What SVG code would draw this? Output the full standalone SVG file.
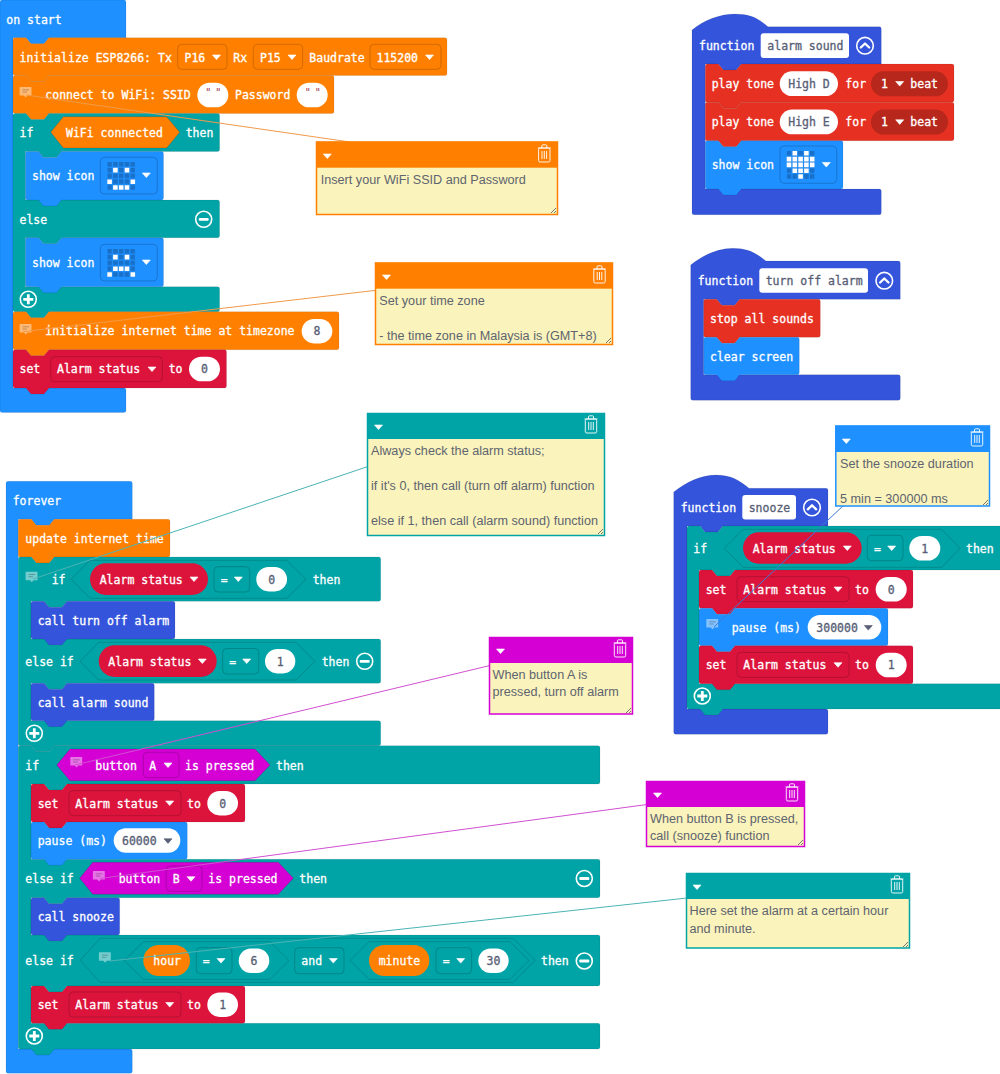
<svg xmlns="http://www.w3.org/2000/svg" width="1000" height="1074" viewBox="0 0 1000 1074">
<style>
text{font-family:"DejaVu Sans Mono","Liberation Mono",monospace;font-size:11.5px;font-weight:400;fill:#fff;stroke:#fff;stroke-width:.3px}
.n{fill:#575E75;stroke:#575E75;text-anchor:middle}
.d{fill:#575E75;stroke:#575E75}
.q{fill:#A8324C;stroke:none;font-size:10px;letter-spacing:-1px;text-anchor:middle}
.c{font-family:"Liberation Sans",Arial,sans-serif;font-size:12.65px;font-weight:400;fill:#5E6470;stroke:none}
.b{stroke:#000;stroke-opacity:.12;stroke-width:.7}
.teal{fill:#00A4A6}.blue{fill:#1E90FF}.org{fill:#FF8000}.red{fill:#DC143C}.fn{fill:#3455DB}.mus{fill:#E63022}.pur{fill:#D400D4}
.f{fill:none;stroke:#000;stroke-opacity:.18;stroke-width:1}
.o{fill:#fff}
.hx{stroke:#000;stroke-opacity:.15;stroke-width:1}
.line{fill:none;stroke-width:1}
.body{fill:#FAF3BB}
</style>
<defs>
<path id="caret" d="M0 0h8l-4 4.6z" fill="#fff" stroke="#fff" stroke-width=".6" stroke-linejoin="round"/>
<path id="dcaret" d="M0 0h8l-4 4.6z" fill="#575E75" stroke="#575E75" stroke-width=".6" stroke-linejoin="round"/>
<pattern id="dots" width="5.8" height="5.8" patternUnits="userSpaceOnUse"><rect width="4.6" height="4.6" fill="#1870C8"/></pattern>
<g id="happy"><rect width="28" height="28" fill="url(#dots)"/><path fill="#fff" d="M5.8 5.8h4.6v4.6h-4.6zM17.4 5.8h4.6v4.6h-4.6zM0 17.4h4.6v4.6h-4.6zM23.2 17.4h4.6v4.6h-4.6zM5.8 23.2h4.6v4.6h-4.6zM11.6 23.2h4.6v4.6h-4.6zM17.4 23.2h4.6v4.6h-4.6z"/></g>
<g id="sad"><rect width="28" height="28" fill="url(#dots)"/><path fill="#fff" d="M5.8 5.8h4.6v4.6h-4.6zM17.4 5.8h4.6v4.6h-4.6zM5.8 17.4h4.6v4.6h-4.6zM11.6 17.4h4.6v4.6h-4.6zM17.4 17.4h4.6v4.6h-4.6zM0 23.2h4.6v4.6h-4.6zM23.2 23.2h4.6v4.6h-4.6z"/></g>
<g id="heart"><rect width="28" height="28" fill="url(#dots)"/><path fill="#fff" d="M5.8 0h4.6v4.6h-4.6zM17.4 0h4.6v4.6h-4.6zM0 5.8h4.6v4.6h-4.6zM5.8 5.8h4.6v4.6h-4.6zM11.6 5.8h4.6v4.6h-4.6zM17.4 5.8h4.6v4.6h-4.6zM23.2 5.8h4.6v4.6h-4.6zM0 11.6h4.6v4.6h-4.6zM5.8 11.6h4.6v4.6h-4.6zM11.6 11.6h4.6v4.6h-4.6zM17.4 11.6h4.6v4.6h-4.6zM23.2 11.6h4.6v4.6h-4.6zM5.8 17.4h4.6v4.6h-4.6zM11.6 17.4h4.6v4.6h-4.6zM17.4 17.4h4.6v4.6h-4.6zM11.6 23.2h4.6v4.6h-4.6z"/></g>
<g id="minus"><circle r="8" fill="none" stroke="#fff" stroke-width="1.6"/><rect x="-5" y="-1.4" width="10" height="2.8" rx="1" fill="#fff"/></g>
<g id="plus"><circle r="8" fill="none" stroke="#fff" stroke-width="1.6"/><path d="M-5-1.4h3.6v-3.6h2.8v3.6h3.6v2.8h-3.6v3.6h-2.8v-3.6h-3.6z" fill="#fff"/></g>
<g id="up"><circle r="8.3" fill="none" stroke="#fff" stroke-width="1.6"/><path d="M-4.2 1.8L0-2.2L4.2 1.8" fill="none" stroke="#fff" stroke-width="2.3" stroke-linecap="round" stroke-linejoin="round"/></g>
<g id="cm"><path d="M.5 0h10.5q.5 0 .5.5v7.5q0 .5-.5.5h-3.5l-1.700 2-1.700-2h-4q-.5 0-.5-.5v-7.500q0-.5.5-.5z" fill="#fff" fill-opacity=".45"/><path d="M2.500 2.800h6.500M2.500 5h4.500" stroke="#000" stroke-opacity=".25" stroke-width="1"/></g>
<g id="trash" fill="none" stroke="#fff" stroke-width="1" stroke-opacity=".9"><path d="M-6.500-5.500h13M-2.500-5.500v-2.200q0-1 1-1h3q1 0 1 1v2.200"/><rect x="-5.700" y="-5.500" width="11.400" height="14" rx="1.500"/><path d="M-2.300-2.500v8M0-2.500v8M2.300-2.500v8"/></g>
<g id="grip" stroke="#777" stroke-width="1" fill="none"><path d="M-6-1L-1-6M-3-1L-1-3"/></g>
</defs>

<g id="on-start">
<path class="blue b" d="M2 0H124q2 0 2 2V37.700H49l-5 6h-13l-5-6H13V388H124q2 0 2 2v20.500q0 2-2 2H2q-2 0-2-2V2q0-2 2-2z"/>
<text x="6.300" y="23.500">on start</text>
</g>
<g id="init-esp">
<path class="org b" d="M15 37.700h11l5 6h13l5-6h396q2 0 2 2v33.800q0 2-2 2h-396l-5 6h-13l-5-6h-11q-2 0-2-2v-33.800q0-2 2-2z"/>
<text x="19.500" y="61.500">initialize ESP8266: Tx</text>
<rect class="f" x="177.700" y="44.300" width="49.300" height="25" rx="4"/><text x="184.500" y="61.500">P16</text><use href="#caret" x="212.500" y="55"/>
<text x="233.300" y="61.500">Rx</text>
<rect class="f" x="253.300" y="44.300" width="49.300" height="25" rx="4"/><text x="260" y="61.500">P15</text><use href="#caret" x="288" y="55"/>
<text x="309.300" y="61.500">Baudrate</text>
<rect class="f" x="370" y="44.300" width="71" height="25" rx="4"/><text x="376.500" y="61.500">115200</text><use href="#caret" x="425.500" y="55"/>
</g>
<g id="connect-wifi">
<path class="org b" d="M15 75.500h11l5 6h13l5-6h283q2 0 2 2v34q0 2-2 2h-283l-5 6h-13l-5-6h-11q-2 0-2-2v-34q0-2 2-2z"/>
<use href="#cm" x="20" y="87"/>
<text x="45.300" y="99">connect to WiFi: SSID</text>
<rect class="o" x="197.300" y="82.700" width="31" height="24.600" rx="12.300"/><text class="q" x="212.800" y="95.500">" "</text>
<text x="235" y="99">Password</text>
<rect class="o" x="296.700" y="82.700" width="31" height="24.600" rx="12.300"/><text class="q" x="312.200" y="95.500">" "</text>
</g>
<g id="if-wifi">
<path class="teal b" d="M15 113.500h11l5 6h13l5-6H217.600q2 0 2 2V149.500q0 2-2 2H61.500l-5 6h-13l-5-6H25.500V200H217.600q2 0 2 2V235.700q0 2-2 2H61.500l-5 6h-13l-5-6H25.500V286.700H217.600q2 0 2 2V309.700q0 2-2 2H49l-5 6h-13l-5-6H15q-2 0-2-2V115.500q0-2 2-2z"/>
<text x="19.500" y="137">if</text>
<path class="org hx" d="M50.700 132.300L63.300 116.700H166.700L179.700 132.300L166.700 148H63.300z"/>
<text x="66" y="137">WiFi connected</text>
<text x="185.700" y="137">then</text>
<text x="19.500" y="223.500">else</text>
<use href="#minus" x="203.700" y="219.300"/>
<use href="#plus" x="28.300" y="299.300"/>
</g>
<g id="show-happy">
<path class="blue b" d="M27.500 151.500h11l5 6h13l5-6h100q2 0 2 2v44.500q0 2-2 2h-100l-5 6h-13l-5-6h-11q-2 0-2-2v-44.500q0-2 2-2z"/>
<text x="32" y="180">show icon</text>
<rect class="f" x="100.300" y="157.300" width="57" height="36.700" rx="4"/><use href="#happy" x="107.300" y="162"/><use href="#caret" x="142.300" y="173"/>
</g>
<g id="show-sad">
<path class="blue b" d="M27.500 237.700h11l5 6h13l5-6h100q2 0 2 2v45q0 2-2 2h-100l-5 6h-13l-5-6h-11q-2 0-2-2v-45q0-2 2-2z"/>
<text x="32" y="266.500">show icon</text>
<rect class="f" x="100.300" y="244.300" width="57" height="36.700" rx="4"/><use href="#sad" x="107.300" y="249"/><use href="#caret" x="142.300" y="260"/>
</g>
<g id="init-time">
<path class="org b" d="M15 311.700h11l5 6h13l5-6h288q2 0 2 2v34q0 2-2 2h-288l-5 6h-13l-5-6h-11q-2 0-2-2v-34q0-2 2-2z"/>
<use href="#cm" x="20" y="324"/>
<text x="45.300" y="335.200">initialize internet time at timezone</text>
<rect class="o" x="301.700" y="319" width="30.600" height="24.400" rx="12.200"/><text class="n" x="317" y="335.200">8</text>
</g>
<g id="set-start">
<path class="red b" d="M15 349.700h11l5 6h13l5-6h175.500q2 0 2 2v34.300q0 2-2 2h-175.500l-5 6h-13l-5-6h-11q-2 0-2-2v-34.300q0-2 2-2z"/>
<text x="19.500" y="373.200">set</text>
<rect class="f" x="50.700" y="356.700" width="111.600" height="25" rx="4"/><text x="57" y="373.200">Alarm status</text><use href="#caret" x="148" y="367"/>
<text x="168.700" y="373.200">to</text>
<rect class="o" x="189" y="356.700" width="31" height="24.600" rx="12.300"/><text class="n" x="204.500" y="373.200">0</text>
</g>

<g id="fn-alarm-sound">
<path class="fn b" d="M692 30C704 20 720 14 735 14S758 18 768 26.700H879.300q2 0 2 2V64H741.300l-5 6h-13l-5-6H705.300V189H879.300q2 0 2 2v21.700q0 2-2 2H694q-2 0-2-2z"/>
<text x="699" y="50">function</text>
<rect class="o" x="760.700" y="33.300" width="88.300" height="24.700" rx="3"/><text class="d" x="767.300" y="50">alarm sound</text>
<use href="#up" x="865" y="45.700"/>
</g>
<g id="tone-d">
<path class="mus b" d="M707.300 64h11l5 6h13l5-6h210.700q2 0 2 2v34.300q0 2-2 2h-210.700l-5 6h-13l-5-6h-11q-2 0-2-2v-34.300q0-2 2-2z"/>
<text x="711.700" y="87.500">play tone</text>
<rect class="o" x="779.700" y="71.300" width="58.300" height="24.700" rx="12.300"/><text class="n" x="809" y="87.500">High D</text>
<text x="845.300" y="87.500">for</text>
<rect x="871" y="71.300" width="77" height="25" rx="12.500" fill="#B8271B"/><text x="881" y="87.500">1</text><use href="#caret" x="895.700" y="81.500"/><text x="910.300" y="87.500">beat</text>
</g>
<g id="tone-e">
<path class="mus b" d="M707.300 102.300h11l5 6h13l5-6h210.700q2 0 2 2v34.400q0 2-2 2h-210.700l-5 6h-13l-5-6h-11q-2 0-2-2v-34.400q0-2 2-2z"/>
<text x="711.700" y="125.800">play tone</text>
<rect class="o" x="779.700" y="109.600" width="58.300" height="24.700" rx="12.300"/><text class="n" x="809" y="125.800">High E</text>
<text x="845.300" y="125.800">for</text>
<rect x="871" y="109.600" width="77" height="25" rx="12.500" fill="#B8271B"/><text x="881" y="125.800">1</text><use href="#caret" x="895.700" y="119.800"/><text x="910.300" y="125.800">beat</text>
</g>
<g id="show-heart">
<path class="blue b" d="M707.300 140.700h11l5 6h13l5-6h99.700q2 0 2 2v44.300q0 2-2 2h-99.700l-5 6h-13l-5-6h-11q-2 0-2-2v-44.300q0-2 2-2z"/>
<text x="711.700" y="169.300">show icon</text>
<rect class="f" x="780" y="146" width="56.700" height="37.300" rx="4"/><use href="#heart" x="786.700" y="151"/><use href="#caret" x="822.300" y="162.500"/>
</g>

<g id="fn-turn-off">
<path class="fn b" d="M690.700 265C703 255 718 248.300 733 248.300S756 253 766 261H898.300q2 0 2 2V299.300H739.700l-5 6h-13l-5-6H703.700V374.700H898.300q2 0 2 2v21.600q0 2-2 2H692.700q-2 0-2-2z"/>
<text x="697.700" y="285.200">function</text>
<rect class="o" x="759.300" y="268.300" width="108.700" height="24.400" rx="3"/><text class="d" x="765.700" y="285.200">turn off alarm</text>
<use href="#up" x="884.300" y="280.700"/>
</g>
<g id="stop-sounds">
<path class="mus b" d="M705.700 299.300h11l5 6h13l5-6h78.600q2 0 2 2v34q0 2-2 2h-78.600l-5 6h-13l-5-6h-11q-2 0-2-2v-34q0-2 2-2z"/>
<text x="710" y="322.900">stop all sounds</text>
</g>
<g id="clear-screen">
<path class="blue b" d="M705.700 337.300h11l5 6h13l5-6h57.600q2 0 2 2v33.400q0 2-2 2h-57.600l-5 6h-13l-5-6h-11q-2 0-2-2v-33.400q0-2 2-2z"/>
<text x="710" y="361">clear screen</text>
</g>

<g id="fn-snooze">
<path class="fn b" d="M673.700 492C686 482 701 475 716 475S739 480 749 488.300H826q2 0 2 2V526H723l-5 6h-13l-5-6H687V709H826q2 0 2 2v21.300q0 2-2 2H675.700q-2 0-2-2z"/>
<text x="680.700" y="512">function</text>
<rect class="o" x="742.300" y="495" width="53.700" height="24.600" rx="3"/><text class="d" x="748.700" y="512">snooze</text>
<use href="#up" x="812" y="507.500"/>
</g>
<g id="if-snooze">
<path class="teal b" d="M689 526h11l5 6h13l5-6H1002V570H735l-5 6h-13l-5-6H699V683.700H1002V709H723l-5 6h-13l-5-6H689q-2 0-2-2V528q0-2 2-2z"/>
<text x="693.300" y="552.700">if</text>
<path class="teal hx" d="M724.300 548.300L743 529.300H941.700L960 548.300L941.700 567.300H743z"/>
<rect class="red" x="743" y="532.300" width="118.700" height="31.400" rx="15.700"/>
<text x="752.700" y="552.700">Alarm status</text><use href="#caret" x="843.300" y="546"/>
<rect class="f" x="867.300" y="535.300" width="35.700" height="25.400" rx="4"/><text x="874" y="552.700">=</text><use href="#caret" x="887.700" y="546"/>
<rect class="o" x="909.300" y="536" width="31" height="24.600" rx="12.300"/><text class="n" x="924.800" y="552.700">1</text>
<text x="966" y="552.700">then</text>
<use href="#plus" x="702.300" y="696"/>
</g>
<g id="set-snooze-0">
<path class="red b" d="M701 570h11l5 6h13l5-6h176q2 0 2 2v34.300q0 2-2 2h-176l-5 6h-13l-5-6h-11q-2 0-2-2v-34.300q0-2 2-2z"/>
<text x="705.700" y="593.500">set</text>
<rect class="f" x="737" y="576.700" width="112" height="25" rx="4"/><text x="743.300" y="593.500">Alarm status</text><use href="#caret" x="834" y="587"/>
<text x="855" y="593.500">to</text>
<rect class="o" x="875.700" y="577" width="31" height="24.600" rx="12.300"/><text class="n" x="891.200" y="593.500">0</text>
</g>
<g id="pause-snooze">
<path class="blue b" d="M701 608.300h11l5 6h13l5-6h151q2 0 2 2v33.400q0 2-2 2h-151l-5 6h-13l-5-6h-11q-2 0-2-2v-33.400q0-2 2-2z"/>
<use href="#cm" x="706.700" y="619"/>
<text x="731.700" y="631.800">pause (ms)</text>
<rect class="o" x="807.700" y="615" width="73.600" height="24.500" rx="12.200"/><text class="d" x="816.300" y="631.800">300000</text><use href="#dcaret" x="864.300" y="625.500"/>
</g>
<g id="set-snooze-1">
<path class="red b" d="M701 645.700h11l5 6h13l5-6h176q2 0 2 2v34q0 2-2 2h-176l-5 6h-13l-5-6h-11q-2 0-2-2v-34q0-2 2-2z"/>
<text x="705.700" y="669.200">set</text>
<rect class="f" x="737" y="652.400" width="112" height="25" rx="4"/><text x="743.300" y="669.200">Alarm status</text><use href="#caret" x="834" y="662.700"/>
<text x="855" y="669.200">to</text>
<rect class="o" x="875.700" y="652.700" width="31" height="24.600" rx="12.300"/><text class="n" x="891.200" y="669.200">1</text>
</g>

<g id="forever">
<path class="blue b" d="M8 481.300H130.300q2 0 2 2V519.300H54.300l-5 6h-13l-5-6H18.300V1049H130.300q2 0 2 2v20.300q0 2-2 2H8q-2 0-2-2V483.300q0-2 2-2z"/>
<text x="12.700" y="505">forever</text>
</g>
<g id="update-time">
<path class="org b" d="M20.300 519.300h11l5 6h13l5-6h113.700q2 0 2 2v33.700q0 2-2 2h-113.700l-5 6h-13l-5-6h-11q-2 0-2-2v-33.700q0-2 2-2z"/>
<text x="25.300" y="542.800">update internet time</text>
</g>
<g id="if-status">
<path class="teal b" d="M20.300 557h11l5 6h13l5-6H378.700q2 0 2 2V599.300q0 2-2 2H67l-5 6h-13l-5-6H31V639H378.700q2 0 2 2V681.300q0 2-2 2H67l-5 6h-13l-5-6H31V720.700H378.700q2 0 2 2V743.700q0 2-2 2H54.300l-5 6h-13l-5-6H20.300q-2 0-2-2V559q0-2 2-2z"/>
<use href="#cm" x="26" y="571.700"/>
<text x="51.700" y="583.600">if</text>
<path class="teal hx" d="M71 579.300L90 560.300H286.700L306 579.300L286.700 598.300H90z"/>
<rect class="red" x="90" y="563.300" width="118" height="31.700" rx="15.800"/>
<text x="99.700" y="583.600">Alarm status</text><use href="#caret" x="190" y="577"/>
<rect class="f" x="214" y="566.700" width="35.700" height="25.300" rx="4"/><text x="220.700" y="583.600">=</text><use href="#caret" x="234.300" y="577"/>
<rect class="o" x="256.300" y="567" width="30.700" height="24.400" rx="12.200"/><text class="n" x="271.600" y="583.600">0</text>
<text x="312.700" y="583.600">then</text>
<text x="25.300" y="665.600">else if</text>
<path class="teal hx" d="M80 661.300L98.700 642.300H296L315 661.300L296 680H98.700z"/>
<rect class="red" x="98.700" y="645.300" width="118" height="31.700" rx="15.800"/>
<text x="108.300" y="665.600">Alarm status</text><use href="#caret" x="198.300" y="659"/>
<rect class="f" x="222.700" y="648.500" width="36" height="25.500" rx="4"/><text x="229.300" y="665.600">=</text><use href="#caret" x="242.700" y="659"/>
<rect class="o" x="265" y="649" width="30.300" height="24.400" rx="12.200"/><text class="n" x="280.200" y="665.600">1</text>
<text x="321.700" y="665.600">then</text>
<use href="#minus" x="364.700" y="661.300"/>
<use href="#plus" x="34.300" y="733.300"/>
</g>
<g id="call-turn-off">
<path class="fn b" d="M33 601.300h11l5 6h13l5-6h106q2 0 2 2v33.700q0 2-2 2h-106l-5 6h-13l-5-6h-11q-2 0-2-2v-33.700q0-2 2-2z"/>
<text x="37.700" y="624.600">call turn off alarm</text>
</g>
<g id="call-alarm-sound">
<path class="fn b" d="M33 683.300h11l5 6h13l5-6h85.300q2 0 2 2v33.400q0 2-2 2h-85.300l-5 6h-13l-5-6h-11q-2 0-2-2v-33.400q0-2 2-2z"/>
<text x="37.700" y="706.600">call alarm sound</text>
</g>
<g id="if-buttons">
<path class="teal b" d="M20.300 745.700h11l5 6h13l5-6H598q2 0 2 2V782q0 2-2 2H67l-5 6h-13l-5-6H31V859.300H598q2 0 2 2V895.700q0 2-2 2H67l-5 6h-13l-5-6H31V935H598q2 0 2 2V984q0 2-2 2H67l-5 6h-13l-5-6H31V1023.300H598q2 0 2 2V1047q0 2-2 2H54.300l-5 6h-13l-5-6H20.300q-2 0-2-2V747.700q0-2 2-2z"/>
<text x="25.300" y="769.600">if</text>
<path class="pur hx" d="M56.700 765L70 749H255L270 765L255 780.700H70z"/>
<use href="#cm" x="70.700" y="757"/>
<text x="95.300" y="769.600">button</text>
<rect class="f" x="143.300" y="752.300" width="35.700" height="25.400" rx="4"/><text x="149.300" y="769.600">A</text><use href="#caret" x="164" y="763"/>
<text x="185" y="769.600">is pressed</text>
<text x="276" y="769.600">then</text>
<text x="25.300" y="883.300">else if</text>
<path class="pur hx" d="M79.700 878.300L92.700 862.300H278.300L293.300 878.300L278.300 894.300H92.700z"/>
<use href="#cm" x="93.300" y="871"/>
<text x="118.700" y="883.300">button</text>
<rect class="f" x="166.300" y="866" width="35.700" height="25.400" rx="4"/><text x="172.700" y="883.300">B</text><use href="#caret" x="187" y="876.700"/>
<text x="208.300" y="883.300">is pressed</text>
<text x="299.300" y="883.300">then</text>
<use href="#minus" x="584.300" y="878.500"/>
<text x="25.300" y="965.300">else if</text>
<path class="teal hx" d="M80.300 960.300L100 938.300H513.300L535 960.300L513.300 982.300H100z"/>
<path class="teal hx" d="M124.300 960.500L143.300 941.700H270L289 960.500L270 979.300H143.300z"/>
<rect class="org" x="143.300" y="945" width="46.700" height="31" rx="15.500"/>
<text x="153.300" y="965.300">hour</text>
<rect class="f" x="196.300" y="947.700" width="35.700" height="26" rx="4"/><text x="202.700" y="965.300">=</text><use href="#caret" x="217" y="958.500"/>
<rect class="o" x="238.700" y="948.500" width="30.600" height="24.500" rx="12.200"/><text class="n" x="254" y="965.300">6</text>
<rect class="f" x="294.700" y="947.700" width="49.300" height="26" rx="4"/><text x="301.300" y="965.300">and</text><use href="#caret" x="329.300" y="958.500"/>
<path class="teal hx" d="M350 960.500L369 941.700H510L529 960.500L510 979.300H369z"/>
<rect class="org" x="369" y="945" width="60.300" height="31" rx="15.500"/>
<text x="378.700" y="965.300">minute</text>
<rect class="f" x="436" y="947.700" width="35.700" height="26" rx="4"/><text x="442.700" y="965.300">=</text><use href="#caret" x="456.700" y="958.500"/>
<rect class="o" x="478.300" y="948.500" width="30.400" height="24.500" rx="12.200"/><text class="n" x="493.500" y="965.300">30</text>
<text x="541" y="965.300">then</text>
<use href="#minus" x="584.300" y="961"/>
<use href="#cm" x="99.300" y="952.300"/>
<use href="#plus" x="34.300" y="1036"/>
</g>
<g id="set-a">
<path class="red b" d="M33 784h11l5 6h13l5-6h176q2 0 2 2v34q0 2-2 2h-176l-5 6h-13l-5-6h-11q-2 0-2-2v-34q0-2 2-2z"/>
<text x="37.700" y="807.500">set</text>
<rect class="f" x="69" y="790.700" width="112" height="25" rx="4"/><text x="75.300" y="807.500">Alarm status</text><use href="#caret" x="165.700" y="801"/>
<text x="187" y="807.500">to</text>
<rect class="o" x="207.300" y="791" width="30.700" height="24.400" rx="12.200"/><text class="n" x="222.700" y="807.500">0</text>
</g>
<g id="pause-a">
<path class="blue b" d="M33 822h11l5 6h13l5-6h118.300q2 0 2 2v33.300q0 2-2 2h-118.300l-5 6h-13l-5-6h-11q-2 0-2-2v-33.300q0-2 2-2z"/>
<text x="37.700" y="845.300">pause (ms)</text>
<rect class="o" x="113.700" y="828.300" width="66.600" height="24.400" rx="12.200"/><text class="d" x="122" y="845.300">60000</text><use href="#dcaret" x="164" y="838.800"/>
</g>
<g id="call-snooze">
<path class="fn b" d="M33 897.700h11l5 6h13l5-6h50.700q2 0 2 2v33.300q0 2-2 2h-50.700l-5 6h-13l-5-6h-11q-2 0-2-2v-33.300q0-2 2-2z"/>
<text x="37.700" y="921">call snooze</text>
</g>
<g id="set-time">
<path class="red b" d="M33 986h11l5 6h13l5-6h176q2 0 2 2v33.300q0 2-2 2h-176l-5 6h-13l-5-6h-11q-2 0-2-2v-33.300q0-2 2-2z"/>
<text x="37.700" y="1009.300">set</text>
<rect class="f" x="69" y="992" width="112" height="25" rx="4"/><text x="75.300" y="1009.300">Alarm status</text><use href="#caret" x="165.700" y="1002.500"/>
<text x="187" y="1009.300">to</text>
<rect class="o" x="207.300" y="992.500" width="30.700" height="24.400" rx="12.200"/><text class="n" x="222.700" y="1009.300">1</text>
</g>

<g id="connectors">
<path class="line" stroke="#F09A4A" d="M26 95L350 142"/>
<path class="line" stroke="#F09A4A" d="M23 331.700L376 290.300"/>
<path class="line" stroke="#4CB3B5" d="M33 579L368 466.500"/>
<path class="line" stroke="#D050D0" d="M75 765L490 665.500"/>
<path class="line" stroke="#D050D0" d="M100 878.500L647 804.500"/>
<path class="line" stroke="#4CB3B5" d="M110 961L687 898"/>
<path class="line" stroke="#3A7BD5" d="M714 627L844 505"/>
</g>

<g id="comment-wifi">
<rect class="body" x="316.500" y="142" width="241" height="72.500" stroke="#FF8000" stroke-width="1.500"/>
<rect class="org" x="316" y="141.700" width="241.700" height="26"/>
<use href="#caret" x="323.300" y="154"/><use href="#trash" x="544.300" y="153.500"/><use href="#grip" x="557" y="214"/>
<text class="c" x="320.700" y="184">Insert your WiFi SSID and Password</text>
</g>
<g id="comment-timezone">
<rect class="body" x="375.500" y="263" width="237" height="81.500" stroke="#FF8000" stroke-width="1.500"/>
<rect class="org" x="375" y="262.700" width="237.700" height="26"/>
<use href="#caret" x="382.500" y="275"/><use href="#trash" x="599.500" y="274.500"/><use href="#grip" x="612" y="344"/>
<text class="c" x="379.300" y="304.500">Set your time zone</text>
<text class="c" x="379.300" y="339.500">- the time zone in Malaysia is (GMT+8)</text>
</g>
<g id="comment-status">
<rect class="body" x="367.500" y="413.500" width="237" height="122" stroke="#00A4A6" stroke-width="1.500"/>
<rect class="teal" x="367" y="413" width="238" height="26"/>
<use href="#caret" x="374.500" y="425"/><use href="#trash" x="591" y="424.500"/><use href="#grip" x="604" y="535"/>
<text class="c" x="371" y="455">Always check the alarm status;</text>
<text class="c" x="371" y="490">if it's 0, then call (turn off alarm) function</text>
<text class="c" x="371" y="524.500">else if 1, then call (alarm sound) function</text>
</g>
<g id="comment-button-a">
<rect class="body" x="489.500" y="637.500" width="143" height="76.500" stroke="#D400D4" stroke-width="1.500"/>
<rect class="pur" x="489" y="637" width="144" height="26"/>
<use href="#caret" x="496.500" y="649"/><use href="#trash" x="620" y="648.500"/><use href="#grip" x="632" y="714"/>
<text class="c" x="492.500" y="678.500">When button A is</text>
<text class="c" x="492.500" y="696">pressed, turn off alarm</text>
</g>
<g id="comment-button-b">
<rect class="body" x="646.500" y="781.500" width="158" height="65" stroke="#D400D4" stroke-width="1.500"/>
<rect class="pur" x="646" y="781" width="159" height="26"/>
<use href="#caret" x="653.500" y="793"/><use href="#trash" x="792" y="792.500"/><use href="#grip" x="804" y="846"/>
<text class="c" x="650" y="822.500">When button B is pressed,</text>
<text class="c" x="650" y="840">call (snooze) function</text>
</g>
<g id="comment-alarm-time">
<rect class="body" x="686.500" y="873.500" width="223" height="74.500" stroke="#00A4A6" stroke-width="1.500"/>
<rect class="teal" x="686" y="873" width="224" height="26"/>
<use href="#caret" x="693" y="885"/><use href="#trash" x="897" y="884.500"/><use href="#grip" x="909" y="948"/>
<text class="c" x="689.500" y="915">Here set the alarm at a certain hour</text>
<text class="c" x="689.500" y="932.500">and minute.</text>
</g>
<g id="comment-snooze">
<rect class="body" x="835.800" y="426" width="153.700" height="80" stroke="#1E90FF" stroke-width="1.500"/>
<rect class="blue" x="835.300" y="425.700" width="154.700" height="26.300"/>
<use href="#caret" x="842.300" y="439"/><use href="#trash" x="977" y="437.500"/><use href="#grip" x="989" y="506"/>
<text class="c" x="840" y="468.300">Set the snooze duration</text>
<text class="c" x="840" y="503">5 min = 300000 ms</text>
</g>
</svg>
